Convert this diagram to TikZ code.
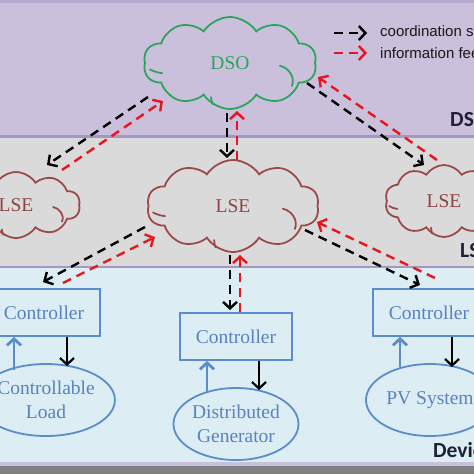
\documentclass[tikz,border=0pt]{standalone}
\usepackage{fontspec}
\setmainfont{Liberation Serif}
\newfontfamily\legfont{Liberation Sans}
\newfontfamily\layfont{Carlito}
\usetikzlibrary{shapes.symbols,shapes.geometric,arrows.meta}
\definecolor{topstrip}{HTML}{B9AACD}
\definecolor{dsoband}{HTML}{CBC0DC}
\definecolor{bandline}{HTML}{A896C2}
\definecolor{lseband}{HTML}{DADADA}
\definecolor{devband}{HTML}{DCEDF4}
\definecolor{botline}{HTML}{C8C0DC}
\definecolor{botstrip}{HTML}{808080}
\definecolor{dsogreen}{HTML}{2EA35C}
\definecolor{lsered}{HTML}{9B4A4A}
\definecolor{lsetext}{HTML}{8E4444}
\definecolor{devblue}{HTML}{5B8CCC}
\definecolor{devtext}{HTML}{5A82BE}
\definecolor{infored}{HTML}{E8141E}
\definecolor{laytext}{HTML}{1F1F35}
\tikzset{
  txt/.style={font=\fontsize{19.5}{24}\selectfont},
  dsocloud/.style={cloud, cloud puffs=10, cloud puff arc=115, draw=dsogreen, line width=1.8pt,
     text=dsogreen, txt, inner sep=0pt},
  lsecloud/.style={cloud, cloud puffs=10, cloud puff arc=115, draw=lsered, line width=1.8pt,
     text=lsetext, txt, inner sep=0pt},
  cloudarc/.style={line width=1.8pt, line cap=round},
  ctrlbox/.style={rectangle, draw=devblue, line width=1.8pt, text=devtext, txt,
     minimum width=112pt, minimum height=47pt, inner sep=0pt},
  devell/.style={ellipse, draw=devblue, line width=1.8pt, text=devtext, txt, align=center,
     minimum height=72pt, inner sep=0pt},
  coordarrow/.style={draw=black, line width=2.4pt, dash pattern=on 9pt off 6pt,
     -{Straight Barb[length=6.5pt,width=14pt]}},
  infoarrow/.style={draw=infored, line width=2.4pt, dash pattern=on 9pt off 6pt,
     -{Straight Barb[length=6.5pt,width=14pt]}},
  upblue/.style={draw=devblue, line width=2.8pt, -{Straight Barb[length=6.5pt,width=14pt]}},
  downblack/.style={draw=black, line width=2.2pt, -{Straight Barb[length=6.5pt,width=14pt]}},
  laylabel/.style={font=\layfont\bfseries\fontsize{21.5}{24}\selectfont, text=laytext, anchor=west, inner sep=0pt},
  legtext/.style={font=\legfont\fontsize{15}{18}\selectfont, text=black!90, anchor=west, inner sep=0pt},
}
\newcommand{\cloudinner}[4]{%
  \begin{scope}[shift={(#1.center)}, xscale=#2, yscale=#3]
    \draw[cloudarc, draw=#4] (0.58,0.06) .. controls (0.68,0.10) and (0.76,0.30) .. (0.72,0.50);
    \draw[cloudarc, draw=#4] (-0.93,0.14) .. controls (-0.88,0.19) and (-0.84,0.21) .. (-0.79,0.22);
    \draw[cloudarc, draw=#4] (-0.22,0.74) .. controls (-0.22,0.80) and (-0.21,0.86) .. (-0.20,0.90);
  \end{scope}}
\begin{document}
\begin{tikzpicture}[x=1pt,y=-1pt]
\useasboundingbox (0,0) rectangle (474,474);
\clip (0,0) rectangle (474,474);
% bands
\fill[dsoband] (0,0) rectangle (474,136);
\fill[topstrip] (0,0) rectangle (474,3);
\fill[lseband] (0,136) rectangle (474,267);
\fill[devband] (0,267) rectangle (474,463);
\fill[bandline] (0,135) rectangle (474,137.5);
\fill[bandline] (0,265.5) rectangle (474,268);
\fill[botline] (0,462) rectangle (474,466);
\fill[botstrip] (0,466) rectangle (474,474);
% layer labels
\node[laylabel] (labdso) at (450,120) {DSO};
\node[laylabel] (lablse) at (460,251) {LSE};
\node[laylabel] (labdev) at (433,450) {Device};
% legend
\coordinate (lg1a) at (334,33);
\coordinate (lg1b) at (367,33);
\coordinate (lg2a) at (334,53);
\coordinate (lg2b) at (367,53);
\draw[coordarrow] (lg1a) -- (lg1b);
\draw[infoarrow] (lg2a) -- (lg2b);
\node[legtext] (leg1) at (380,33) {coordination signal};
\node[legtext] (leg2) at (380,53) {information feedback};
% clouds
\node[dsocloud, minimum width=173pt, minimum height=92pt] (dso) at (230,63) {DSO};
\node[lsecloud, minimum width=128pt, minimum height=66pt] (lseL) at (16,205) {LSE};
\node[lsecloud, minimum width=172pt, minimum height=92pt] (lseC) at (233,206) {LSE};
\node[lsecloud, minimum width=118pt, minimum height=72pt] (lseR) at (444,201) {LSE};
\cloudinner{dso}{86}{46}{dsogreen}
\cloudinner{lseL}{64}{33}{lsered}
\cloudinner{lseC}{86}{46}{lsered}
\cloudinner{lseR}{59}{36}{lsered}
% controllers
\node[ctrlbox] (ctrlL) at (44,312.5) {Controller};
\node[ctrlbox] (ctrlC) at (236,336.5) {Controller};
\node[ctrlbox] (ctrlR) at (429,312.5) {Controller};
% devices
\node[devell, minimum width=122pt] (devL) at (46,400) {Controllable\\Load};
\node[devell, minimum width=125pt] (devC) at (236,424) {Distributed\\Generator};
\node[devell, minimum width=128pt] (devR) at (430,400) {PV System};
% DSO <-> LSE arrows
\coordinate (a1s) at (148,97);  \coordinate (a1e) at (47,165);
\coordinate (b1s) at (62,170);  \coordinate (b1e) at (163,101);
\draw[coordarrow] (a1s) -- (a1e);
\draw[infoarrow] (b1s) -- (b1e);
\coordinate (a2s) at (227,113); \coordinate (a2e) at (227,158);
\coordinate (b2s) at (237,160); \coordinate (b2e) at (237,111);
\draw[coordarrow] (a2s) -- (a2e);
\draw[infoarrow] (b2s) -- (b2e);
\coordinate (a3s) at (307,83);  \coordinate (a3e) at (424,165);
\coordinate (b3s) at (437,160); \coordinate (b3e) at (318,77);
\draw[coordarrow] (a3s) -- (a3e);
\draw[infoarrow] (b3s) -- (b3e);
% LSE <-> controllers
\coordinate (a4s) at (145,227); \coordinate (a4e) at (43,282);
\coordinate (b4s) at (63,283);  \coordinate (b4e) at (155,237);
\draw[coordarrow] (a4s) -- (a4e);
\draw[infoarrow] (b4s) -- (b4e);
\coordinate (a5s) at (230,255); \coordinate (a5e) at (230,310);
\coordinate (b5s) at (240,312); \coordinate (b5e) at (240,255);
\draw[coordarrow] (a5s) -- (a5e);
\draw[infoarrow] (b5s) -- (b5e);
\coordinate (a6s) at (305,230); \coordinate (a6e) at (420,285);
\coordinate (b6s) at (435,278); \coordinate (b6e) at (317,222);
\draw[coordarrow] (a6s) -- (a6e);
\draw[infoarrow] (b6s) -- (b6e);
% device <-> controller
\draw[upblue] (14,370) -- (ctrlL.south -| 14,0);
\draw[downblack] (ctrlL.south -| 67,0) -- (67,366);
\draw[upblue] (207,392) -- (ctrlC.south -| 207,0);
\draw[downblack] (ctrlC.south -| 259,0) -- (259,390);
\draw[upblue] (400,367) -- (ctrlR.south -| 400,0);
\draw[downblack] (ctrlR.south -| 452,0) -- (452,367);
\end{tikzpicture}
\end{document}
